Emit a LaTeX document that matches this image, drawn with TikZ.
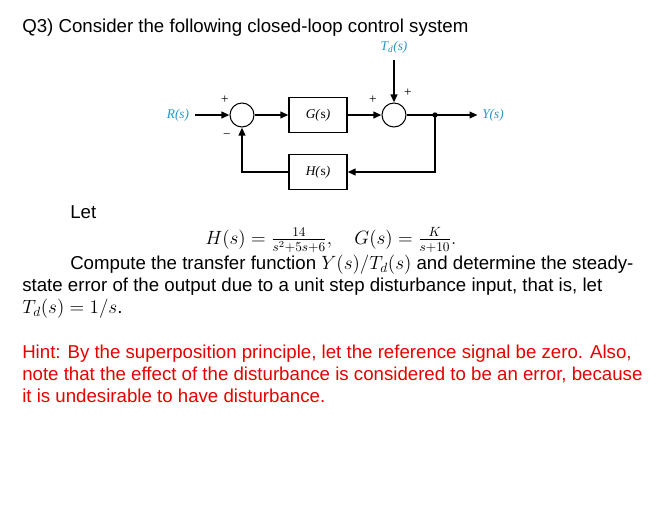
\documentclass[tikz,border=0pt]{standalone}
\usepackage{fontspec}
\setmainfont{Liberation Sans}
\newfontfamily\dgm{Liberation Serif}
\usetikzlibrary{arrows.meta}
\definecolor{sigblue}{RGB}{40,150,200}
\definecolor{hintred}{RGB}{230,0,0}
\begin{document}
\begin{tikzpicture}[x=0.75pt,y=-0.75pt,
  sum/.style={circle,draw,line width=0.8pt,minimum size=18pt,inner sep=0pt},
  blk/.style={draw,line width=0.8pt,minimum width=43.5pt,minimum height=26pt,font=\dgm\itshape\normalsize},
  sig/.style={font=\dgm\itshape\normalsize,text=sigblue},
  con/.style={line width=1.3pt,-{Triangle[length=6pt,width=5pt]}},
  txt/.style={anchor=west,inner sep=0pt,font=\fontsize{14}{16}\selectfont},
  pm/.style={font=\dgm\normalsize,inner sep=0pt}]
\useasboundingbox (0,0) rectangle (672,520);
\fill[white] (0,0) rectangle (672,520);
\node[txt] (q) at (22,28) {Q3) Consider the following closed-loop control system};
\node[sum] (s1) at (242,115) {};
\node[sum] (s2) at (394,115) {};
\node[blk] (g) at (318,115) {G(\textup{\dgm s})};
\node[blk] (h) at (318,172) {H(\textup{\dgm s})};
\node[sig] (r) at (178,115) {R(s)};
\node[sig] (y) at (493,115) {Y(s)};
\node[sig] (td) at (394,47) {T\textsubscript{d}(s)};
\coordinate (br) at (435,115);
\coordinate (fb) at (242,172);
\coordinate (rs) at (195,115);
\coordinate (tdt) at (394,60);
\draw[con] (rs) -- (s1);
\draw[con] (s1) -- (g);
\draw[con] (g) -- (s2);
\draw[con] (s2) -- (y.west);
\draw[con] (tdt) -- (s2);
\draw[con] (br) |- (h);
\draw[con] (h) -- (fb) -- (s1);
\fill (br) circle (2pt);
\node[pm] (p1) at (225,100) {+};
\node[pm] (m1) at (227,136) {\textminus};
\node[pm] (p2) at (373,100) {+};
\node[pm] (p3) at (408,93) {+};
\node[txt] (let) at (70,212) {Let};
\node[anchor=west,inner sep=0pt,font=\Large] (eq) at (205,240)
 {$H(s)=\frac{14}{s^2+5s+6},\quad G(s)=\frac{K}{s+10}.$};
\node[txt] (l1) at (70,265) {Compute the transfer function $Y(s)/T_d(s)$ and determine the steady-};
\node[txt] (l2) at (22,287) {state error of the output due to a unit step disturbance input, that is, let};
\node[txt] (l3) at (22,309) {$T_d(s)=1/s$.};
\node[txt,text=hintred] (h1) at (22,354) {Hint: By the superposition principle, let the reference signal be zero. Also,};
\node[txt,text=hintred] (h2) at (22,375) {note that the effect of the disturbance is considered to be an error, because};
\node[txt,text=hintred] (h3) at (22,396) {it is undesirable to have disturbance.};
\end{tikzpicture}
\end{document}
